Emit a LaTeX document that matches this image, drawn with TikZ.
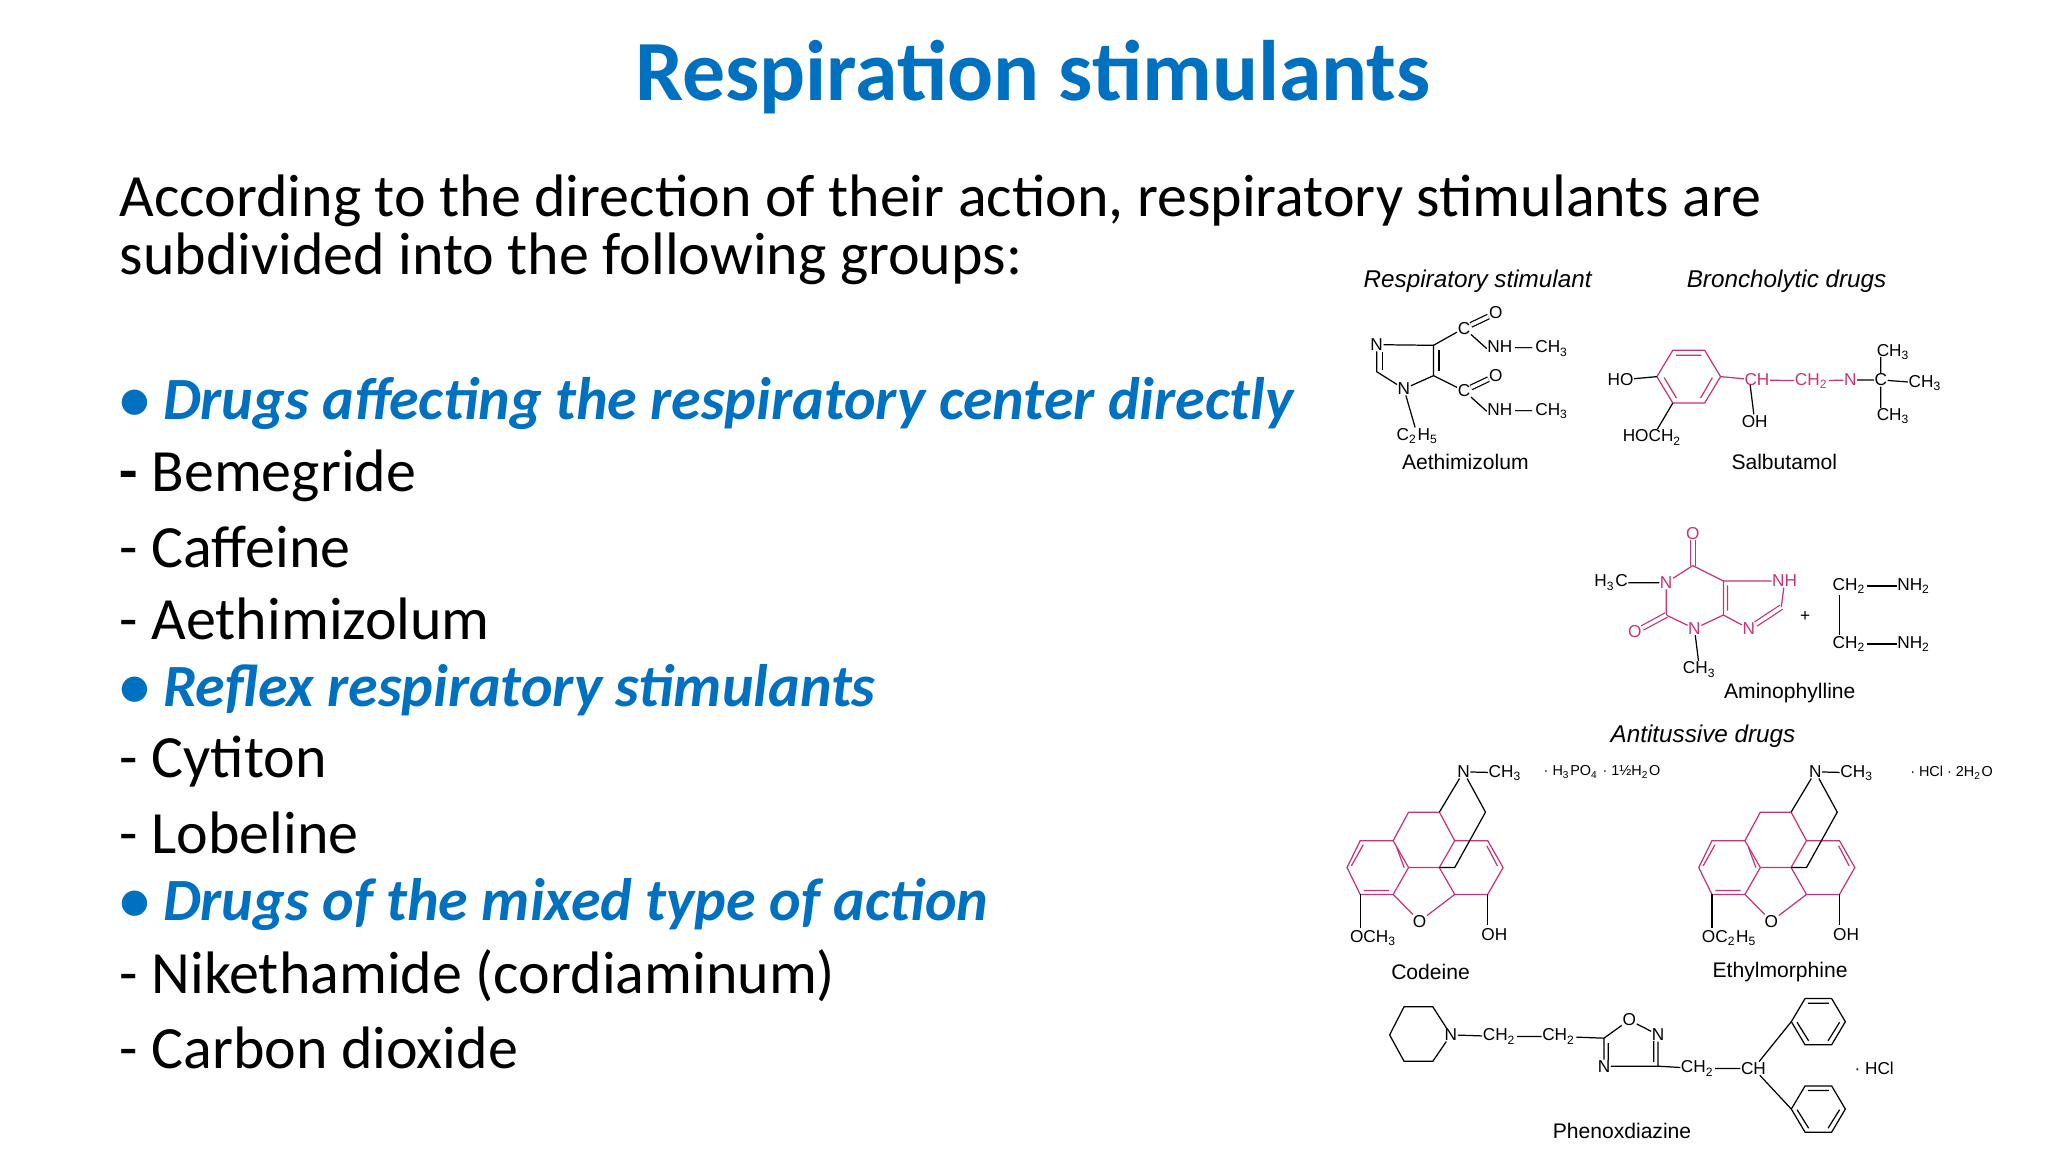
\documentclass[tikz,border=0pt]{standalone}
\usepackage{fontspec}
\setmainfont{Carlito}
\newfontfamily\chemfont{Liberation Sans}
\definecolor{slideblue}{RGB}{0,112,192}
\definecolor{ringpink}{RGB}{196,52,120}
\newcommand{\ssub}[1]{\textsubscript{#1}}
\tikzset{
  title/.style={font=\bfseries\fontsize{24.4}{28}\selectfont, text=slideblue},
  body/.style={font=\fontsize{17.05}{20}\selectfont, anchor=west, inner sep=0pt},
  group/.style={body, font=\bfseries\itshape\fontsize{17.05}{20}\selectfont, text=slideblue},
  atom/.style={font=\chemfont\fontsize{4.9}{5}\selectfont, inner sep=0pt},
  tiny/.style={font=\chemfont\fontsize{4.1}{4}\selectfont, inner sep=0pt},
  mname/.style={font=\chemfont\fontsize{6.0}{6}\selectfont, inner sep=0pt},
  mhead/.style={font=\chemfont\itshape\fontsize{6.9}{7}\selectfont, inner sep=0pt},
  bond/.style={line width=0.35pt},
  pbond/.style={bond, draw=ringpink},
}
% morphinan skeleton, shifted by #1 along x
\newcommand{\morphcore}[2]{%
  \begin{scope}[shift={(#1,0)}]
    \draw[pbond] (30,270) -- (105,270) -- (140,350) -- (105,430) -- (30,430) -- (0,350) -- cycle;
    \draw[pbond] (10,345) -- (37,282) (113,290) -- (130,350) (95,418) -- (38,418);
    \draw[pbond] (105,270) -- (140,185) -- (210,185) -- (245,270) -- (210,350) -- (140,350);
    \draw[pbond] (245,270) -- (320,270) -- (355,350) -- (320,430) -- (245,430) -- (210,350);
    \draw[pbond] (318,285) -- (342,345);
    \node[atom] (#2O) at (165,510) {O};
    \draw[pbond] (105,430) -- (#2O) -- (245,430);
    \draw[bond] (30,430) -- (30,530) (320,430) -- (320,520);
    \node[atom] (#2N) at (265,65) {N};
    \draw[bond] (#2N) -- (210,185) (#2N) -- (315,185) -- (245,350) -- (210,350);
  \end{scope}}
\begin{document}
\begin{tikzpicture}[x=0.01cm, y=-0.01cm]
\useasboundingbox (0,0) rectangle (2048,1158);

% heading and text
\node[title] (ttl) at (1033,77) {Respiration stimulants};
\node[body] (intro1) at (119,201) {According to the direction of their action, respiratory stimulants are};
\node[body] (intro2) at (119,259) {subdivided into the following groups:};
\node[group] (g1) at (119,404) {• Drugs affecting the respiratory center directly};
\node[body] (d1) at (119,475.5) {\textbf{-} Bemegride};
\node[body] (d2) at (119,547) {- Caffeine};
\node[body] (d3) at (119,618.5) {- Aethimizolum};
\node[group] (g2) at (119,690) {• Reflex respiratory stimulants};
\node[body] (d4) at (119,761.5) {- Cytiton};
\node[body] (d5) at (119,833) {- Lobeline};
\node[group] (g3) at (119,904.5) {• Drugs of the mixed type of action};
\node[body] (d6) at (119,976) {- Nikethamide (cordiaminum)};
\node[body] (d7) at (119,1047.5) {- Carbon dioxide};

% aethimizolum and salbutamol
\begin{scope}[shift={(1363,253)}, x=0.00454cm, y=-0.0033cm]
  \node[mhead] (hresp) at (252,85) {Respiratory stimulant};
  \node[atom] (aN3) at (30,278) {N};
  \node[atom] (aN1) at (90,412) {N};
  \node[atom] (aCa) at (222,228) {C};
  \node[atom] (aCb) at (222,418) {C};
  \node[atom] (aOa) at (292,182) {O};
  \node[atom] (aOb) at (292,372) {O};
  \node[atom, anchor=west] (aNHa) at (272,290) {NH\,—\,CH\ssub{3}};
  \node[atom, anchor=west] (aNHb) at (272,480) {NH\,—\,CH\ssub{3}};
  \node[atom] (aEt) at (120,555) {C\ssub{2}H\ssub{5}};
  \node[mname] (aeth) at (225,635) {Aethimizolum};
  \draw[bond] (aN3) -- (155,280) -- (155,372) -- (aN1) -- (30,360) -- (aN3);
  \draw[bond] (167,295) -- (167,358) (42,355) -- (42,300);
  \draw[bond] (155,280) -- (aCa) (155,372) -- (aCb) (aN1) -- (aEt);
  \draw[bond] (aCa) -- (aNHa.west) (aCb) -- (aNHb.west);
  \draw[bond, double, double distance=1pt] (aCa) -- (aOa);
  \draw[bond, double, double distance=1pt] (aCb) -- (aOb);
 \begin{scope}[shift={(-44,0)}]
  % salbutamol
  \node[mhead] (hbron) at (975,85) {Broncholytic drugs};
  \draw[pbond] (725,295) -- (795,295) -- (830,375) -- (795,455) -- (725,455) -- (690,375) -- cycle;
  \draw[pbond] (732,310) -- (788,310) (812,378) -- (786,440) (733,440) -- (706,378);
  \node[atom] (sHO) at (610,385) {HO};
  \node[atom] (sHOC) at (680,560) {HOCH\ssub{2}};
  \node[atom, text=ringpink] (sCH) at (910,385) {CH};
  \node[atom, text=ringpink] (sCH2) at (1030,388) {CH\ssub{2}};
  \node[atom, text=ringpink] (sN) at (1115,385) {N};
  \node[atom] (sC) at (1182,385) {C};
  \node[atom] (sMe) at (1280,395) {CH\ssub{3}};
  \node[atom] (sMeT) at (1210,300) {CH\ssub{3}};
  \node[atom] (sMeB) at (1210,495) {CH\ssub{3}};
  \node[atom] (sOH) at (905,510) {OH};
  \node[mname] (salb) at (970,635) {Salbutamol};
  \draw[bond] (sHO) -- (690,375) (725,455) -- (sHOC);
  \draw[pbond] (830,375) -- (sCH) -- (sCH2) -- (sN);
  \draw[bond] (sN) -- (sC) -- (sMe) (sC) -- (1182,315) (sC) -- (1182,470) (895,400) -- (sOH);
 \end{scope}
\end{scope}

% aminophylline
\begin{scope}[shift={(1577,518)}, x=0.0034cm, y=-0.0034cm]
  \node[atom, text=ringpink] (mO6) at (340,45) {O};
  \node[atom, text=ringpink] (mN1) at (262,190) {N};
  \node[atom, text=ringpink] (mNH) at (610,185) {NH};
  \node[atom, text=ringpink] (mN9) at (505,325) {N};
  \node[atom, text=ringpink] (mN3) at (345,325) {N};
  \node[atom, text=ringpink] (mO2) at (170,335) {O};
  \node[atom] (mMe1) at (100,190) {H\ssub{3}C};
  \node[atom] (mMe3) at (360,445) {CH\ssub{3}};
  \node[atom] (plus) at (670,290) {+};
  \node[atom] (eC1) at (800,200) {CH\ssub{2}};
  \node[atom] (eN1) at (990,200) {NH\ssub{2}};
  \node[atom] (eC2) at (800,370) {CH\ssub{2}};
  \node[atom] (eN2) at (990,370) {NH\ssub{2}};
  \node[mname] (amin) at (625,515) {Aminophylline};
  \node[mhead] (hanti) at (370,640) {Antitussive drugs};
  \draw[pbond, double, double distance=1pt] (mO6) -- (340,140);
  \draw[pbond] (340,140) -- (mN1) -- (262,285) -- (mN3) -- (430,285) -- (430,185) -- (340,140);
  \draw[pbond] (442,198) -- (442,272) (430,185) -- (mNH) -- (600,262) (mN9) -- (430,285);
  \draw[pbond, double, double distance=1pt] (262,285) -- (mO2);
  \draw[pbond, double, double distance=1pt] (600,262) -- (mN9);
  \draw[bond] (mMe1) -- (mN1) (mN3) -- (mMe3);
  \draw[bond] (eC1) -- (eN1) (eC2) -- (eN2) (770,225) -- (770,345);
\end{scope}

% codeine and ethylmorphine
\begin{scope}[shift={(1347,750)}, x=0.0044cm, y=-0.00336cm]
  \morphcore{0}{c}
  \node[atom] (cMe) at (360,68) {CH\ssub{3}};
  \node[tiny] (cSalt) at (580,65) {· H\ssub{3}PO\ssub{4} · 1½H\ssub{2}O};
  \node[atom] (cOMe) at (60,560) {OCH\ssub{3}};
  \node[atom] (cOH) at (335,550) {OH};
  \node[mname] (code) at (190,660) {Codeine};
  \draw[bond] (cN) -- (cMe);
  \morphcore{800}{e}
  \node[atom] (eMe) at (1160,68) {CH\ssub{3}};
  \node[tiny] (eSalt) at (1375,68) {· HCl · 2H\ssub{2}O};
  \node[atom] (eOEt) at (870,560) {OC\ssub{2}H\ssub{5}};
  \node[atom] (eOH) at (1135,550) {OH};
  \node[mname] (ethm) at (985,660) {Ethylmorphine};
  \draw[bond] (eN) -- (eMe);
\end{scope}

% phenoxdiazine
\begin{scope}[shift={(1377,992)}, x=0.0036cm, y=-0.0033cm]
  \node[atom] (pN) at (205,130) {N};
  \node[atom] (pC1) at (340,135) {CH\ssub{2}};
  \node[atom] (pC2) at (505,135) {CH\ssub{2}};
  \node[atom] (pO) at (700,85) {O};
  \node[atom] (pN2) at (780,130) {N};
  \node[atom] (pN4) at (630,225) {N};
  \node[atom] (pC3) at (890,232) {CH\ssub{2}};
  \node[atom] (pCH) at (1045,232) {CH};
  \node[atom] (pHCl) at (1380,230) {· HCl};
  \node[mname] (phen) at (680,420) {Phenoxdiazine};
  \draw[bond] (pN) -- (155,45) -- (75,45) -- (35,130) -- (75,210) -- (155,210) -- (pN);
  \draw[bond] (pN) -- (pC1) -- (pC2) -- (630,140) -- (pO) -- (pN2) -- (780,225) -- (pN4) -- (630,140);
  \draw[bond] (642,155) -- (642,208) (768,148) -- (768,212) (780,225) -- (pC3) -- (pCH);
  \foreach \cy in {90,355} {
    \draw[bond] (1150,\cy) -- (1188,\cy-70) -- (1262,\cy-70) -- (1300,\cy) -- (1262,\cy+70) -- (1188,\cy+70) -- cycle;
    \draw[bond] (1196,\cy-56) -- (1254,\cy-56) (1284,\cy+2) -- (1252,\cy+58) (1198,\cy+58) -- (1166,\cy+2);
  }
  \draw[bond] (pCH) -- (1150,90) (pCH) -- (1150,355);
\end{scope}
\end{tikzpicture}
\end{document}
